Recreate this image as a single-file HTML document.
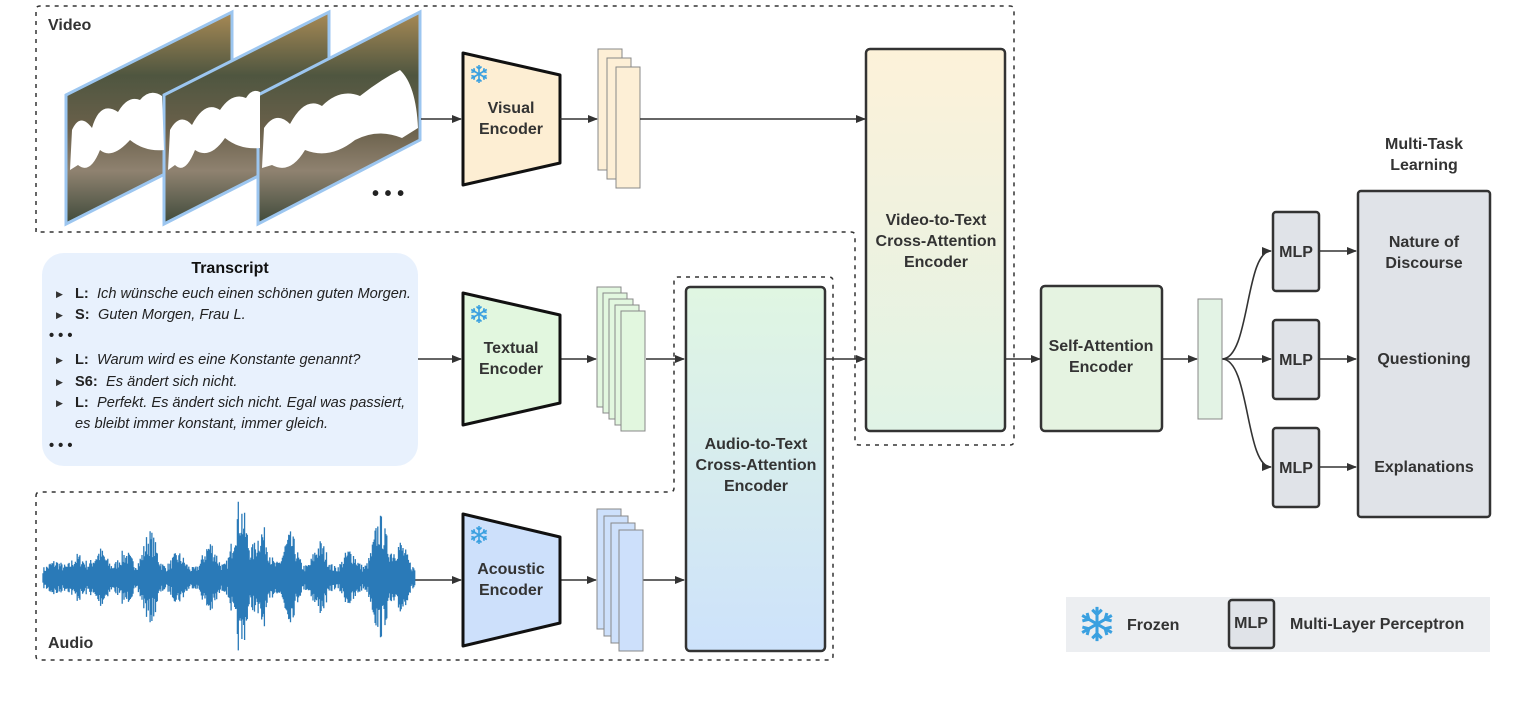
<!DOCTYPE html>
<html><head><meta charset="utf-8"><style>
html,body{margin:0;padding:0;background:#fff}
svg{display:block}
text{font-family:"Liberation Sans",Arial,sans-serif;fill:#333}
.b{font-weight:bold;font-size:16px}
.t{font-size:14.6px;font-style:italic;fill:#222}
.tb{font-size:14.6px;font-weight:bold;fill:#222}
</style></head><body>
<svg id="s" width="1514" height="722" viewBox="0 0 1514 722" xmlns="http://www.w3.org/2000/svg">
<defs>
<marker id="a" markerWidth="10" markerHeight="8" refX="9" refY="4" orient="auto" markerUnits="userSpaceOnUse"><path d="M0,0 L10,4 L0,8 z" fill="#333"/></marker>
<linearGradient id="vt" x1="0" y1="0" x2="0" y2="1"><stop offset="0" stop-color="#fdf2d9"/><stop offset="1" stop-color="#e0f3e6"/></linearGradient>
<linearGradient id="at" x1="0" y1="0" x2="0" y2="1"><stop offset="0" stop-color="#e0f6e2"/><stop offset="1" stop-color="#cde2fb"/></linearGradient>
<linearGradient id="fr" x1="0" y1="0" x2="0" y2="1"><stop offset="0" stop-color="#a88a55"/><stop offset="0.3" stop-color="#4f5640"/><stop offset="0.55" stop-color="#6a604a"/><stop offset="0.75" stop-color="#8f8270"/><stop offset="1" stop-color="#3f4a3a"/></linearGradient>
<g id="snow" stroke="#3aa0e0" stroke-width="1.6" fill="none"><path d="M0,-9V9M-7.8,-4.5L7.8,4.5M-7.8,4.5L7.8,-4.5M-2.5,-7.5L0,-5L2.5,-7.5M-2.5,7.5L0,5L2.5,7.5M-7.7,-1.6L-4.3,-2.5L-5.2,-5.8M7.7,1.6L4.3,2.5L5.2,5.8M-7.7,1.6L-4.3,2.5L-5.2,5.8M7.7,-1.6L4.3,-2.5L5.2,-5.8"/></g>
</defs>

<path d="M36,232 V10 Q36,6 40,6 H1010 Q1014,6 1014,10 V441 Q1014,445 1010,445 H859 Q855,445 855,441 V236 Q855,232 851,232 H40 Q36,232 36,228" fill="none" stroke="#333" stroke-width="1.5" stroke-dasharray="4,5"/>
<path d="M36,496 Q36,492 40,492 H670 Q674,492 674,488 V281 Q674,277 678,277 H829 Q833,277 833,281 V656 Q833,660 829,660 H40 Q36,660 36,656 Z" fill="none" stroke="#333" stroke-width="1.5" stroke-dasharray="4,5"/>
<text x="48" y="30" class="b">Video</text>
<text x="48" y="648" class="b">Audio</text>

<g stroke="#9cc6f0" stroke-width="3">
<polygon points="66,95 232,12 232,140 66,224" fill="url(#fr)"/>
<polygon points="164,95 329,12 329,140 164,224" fill="url(#fr)"/>
<polygon points="258,95 420,12 420,140 258,224" fill="url(#fr)"/>
</g>
<g fill="#fff">
<path d="M70,170 L72,130 Q80,112 92,128 Q100,100 118,112 Q128,95 140,100 Q150,88 162,96 L164,150 Q145,152 130,140 Q112,160 100,150 Q90,175 78,165 Z"/>
<path d="M168,170 L170,130 Q180,112 192,125 Q205,100 220,110 Q232,92 246,98 Q252,88 260,92 L260,148 Q240,150 225,138 Q210,160 195,150 Q185,175 175,165 Z"/>
<path d="M262,168 L264,128 Q276,110 290,124 Q305,96 322,106 Q340,88 360,96 Q380,80 400,70 Q416,85 418,128 L402,138 Q378,128 355,140 Q330,160 305,150 Q290,175 272,165 Z"/>
</g>
<text x="372" y="200" style="font-size:20px;font-weight:bold;fill:#222">• • •</text>

<polygon points="463,53 560,75 560,163 463,185" fill="#fdeed3" stroke="#111" stroke-width="3" stroke-linejoin="round"/>
<use href="#snow" x="479" y="74"/>
<text x="511" y="113" text-anchor="middle" class="b">Visual</text>
<text x="511" y="134" text-anchor="middle" class="b">Encoder</text>
<g fill="#fdefd6" stroke="#888" stroke-width="1"><rect x="598" y="49" width="24" height="121"/><rect x="607" y="58" width="24" height="121"/><rect x="616" y="67" width="24" height="121"/></g>
<g stroke="#333" stroke-width="1.6" marker-end="url(#a)" fill="none">
<line x1="421" y1="119" x2="461" y2="119"/><line x1="560" y1="119" x2="597" y2="119"/><line x1="640" y1="119" x2="865" y2="119"/>
<line x1="418" y1="359" x2="461" y2="359"/><line x1="560" y1="359" x2="596" y2="359"/><line x1="646" y1="359" x2="684" y2="359"/>
<line x1="825" y1="359" x2="865" y2="359"/>
<line x1="415" y1="580" x2="461" y2="580"/><line x1="560" y1="580" x2="596" y2="580"/><line x1="643" y1="580" x2="684" y2="580"/>
<line x1="1005" y1="359" x2="1040" y2="359"/><line x1="1162" y1="359" x2="1197" y2="359"/>
<path d="M1222,359 C1250,359 1245,251 1271,251"/><line x1="1222" y1="359" x2="1271" y2="359"/><path d="M1222,359 C1250,359 1245,467 1271,467"/>
<line x1="1319" y1="251" x2="1356" y2="251"/><line x1="1319" y1="359" x2="1356" y2="359"/><line x1="1319" y1="467" x2="1356" y2="467"/>
</g>

<rect x="866" y="49" width="139" height="382" rx="4" fill="url(#vt)" stroke="#333" stroke-width="2.5"/>
<text x="936" y="225" text-anchor="middle" class="b">Video-to-Text</text>
<text x="936" y="246" text-anchor="middle" class="b">Cross-Attention</text>
<text x="936" y="267" text-anchor="middle" class="b">Encoder</text>

<rect x="42" y="253" width="376" height="213" rx="22" fill="#e8f1fd"/>
<text x="230" y="273" text-anchor="middle" style="font-size:16px;font-weight:bold;fill:#111">Transcript</text>
<g style="font-size:9px;fill:#222">
<text x="56" y="297">▶</text><text x="56" y="318">▶</text><text x="56" y="363">▶</text><text x="56" y="385">▶</text><text x="56" y="406">▶</text></g>
<text x="75" y="298" class="tb">L:</text><text x="97" y="298" class="t">Ich wünsche euch einen schönen guten Morgen.</text>
<text x="75" y="319" class="tb">S:</text><text x="98" y="319" class="t">Guten Morgen, Frau L.</text>
<text x="49" y="340" class="tb">• • •</text>
<text x="75" y="364" class="tb">L:</text><text x="97" y="364" class="t">Warum wird es eine Konstante genannt?</text>
<text x="75" y="386" class="tb">S6:</text><text x="106" y="386" class="t">Es ändert sich nicht.</text>
<text x="75" y="407" class="tb">L:</text><text x="97" y="407" class="t">Perfekt. Es ändert sich nicht. Egal was passiert,</text>
<text x="75" y="428" class="t">es bleibt immer konstant, immer gleich.</text>
<text x="49" y="450" class="tb">• • •</text>

<polygon points="463,293 560,315 560,403 463,425" fill="#e2f7df" stroke="#111" stroke-width="3" stroke-linejoin="round"/>
<use href="#snow" x="479" y="314"/>
<text x="511" y="353" text-anchor="middle" class="b">Textual</text>
<text x="511" y="374" text-anchor="middle" class="b">Encoder</text>
<g fill="#e2f7df" stroke="#888" stroke-width="1"><rect x="597" y="287" width="24" height="120"/><rect x="603" y="293" width="24" height="120"/><rect x="609" y="299" width="24" height="120"/><rect x="615" y="305" width="24" height="120"/><rect x="621" y="311" width="24" height="120"/></g>

<rect x="686" y="287" width="139" height="364" rx="4" fill="url(#at)" stroke="#333" stroke-width="2.5"/>
<text x="756" y="449" text-anchor="middle" class="b">Audio-to-Text</text>
<text x="756" y="470" text-anchor="middle" class="b">Cross-Attention</text>
<text x="756" y="491" text-anchor="middle" class="b">Encoder</text>

<path id="wave" d="" stroke="#2a7ab8" stroke-width="1.3" fill="none"/>
<polygon points="463,514 560,537 560,623 463,646" fill="#cde0fb" stroke="#111" stroke-width="3" stroke-linejoin="round"/>
<use href="#snow" x="479" y="535"/>
<text x="511" y="574" text-anchor="middle" class="b">Acoustic</text>
<text x="511" y="595" text-anchor="middle" class="b">Encoder</text>
<g fill="#cde0fb" stroke="#888" stroke-width="1"><rect x="597" y="509" width="24" height="120"/><rect x="604" y="516" width="24" height="120"/><rect x="611" y="523" width="24" height="120"/><rect x="619" y="530" width="24" height="121"/></g>

<rect x="1041" y="286" width="121" height="145" rx="4" fill="#e5f3e1" stroke="#333" stroke-width="2.5"/>
<text x="1101" y="351" text-anchor="middle" class="b">Self-Attention</text>
<text x="1101" y="372" text-anchor="middle" class="b">Encoder</text>
<rect x="1198" y="299" width="24" height="120" fill="#e3f3e5" stroke="#888"/>

<g fill="#e0e3e8" stroke="#333" stroke-width="2.5">
<rect x="1273" y="212" width="46" height="79" rx="3"/><rect x="1273" y="320" width="46" height="79" rx="3"/><rect x="1273" y="428" width="46" height="79" rx="3"/>
<rect x="1358" y="191" width="132" height="326" rx="3"/></g>
<text x="1296" y="257" text-anchor="middle" class="b">MLP</text>
<text x="1296" y="365" text-anchor="middle" class="b">MLP</text>
<text x="1296" y="473" text-anchor="middle" class="b">MLP</text>
<text x="1424" y="149" text-anchor="middle" class="b">Multi-Task</text>
<text x="1424" y="170" text-anchor="middle" class="b">Learning</text>
<text x="1424" y="247" text-anchor="middle" class="b">Nature of</text>
<text x="1424" y="268" text-anchor="middle" class="b">Discourse</text>
<text x="1424" y="364" text-anchor="middle" class="b">Questioning</text>
<text x="1424" y="472" text-anchor="middle" class="b">Explanations</text>

<rect x="1066" y="597" width="424" height="55" fill="#eceef1"/>
<g transform="translate(1097,624) scale(1.9)"><use href="#snow"/></g>
<text x="1127" y="630" class="b">Frozen</text>
<rect x="1229" y="600" width="45" height="48" rx="3" fill="#e0e3e8" stroke="#333" stroke-width="2.5"/>
<text x="1251" y="628" text-anchor="middle" class="b">MLP</text>
<text x="1290" y="629" class="b">Multi-Layer Perceptron</text>
</svg>
<script>
(function(){var s=7,d="";function r(){s=(s*16807)%2147483647;return s/2147483647;}
var bursts=[[55,10],[78,16],[100,22],[125,20],[150,40],[178,18],[210,30],[240,72],[262,45],[290,38],[320,30],[350,22],[380,55],[400,30]];
for(var x=43;x<=415;x+=0.9){var a=9;for(var i=0;i<bursts.length;i++){var dx=(x-bursts[i][0])/9;a+=bursts[i][1]*Math.exp(-dx*dx);}
var h=a*(0.45+0.55*r());d+="M"+x.toFixed(1)+","+(578-h).toFixed(1)+"V"+(578+h*0.95).toFixed(1);}
document.getElementById("wave").setAttribute("d",d);})();
</script>
</body></html>
